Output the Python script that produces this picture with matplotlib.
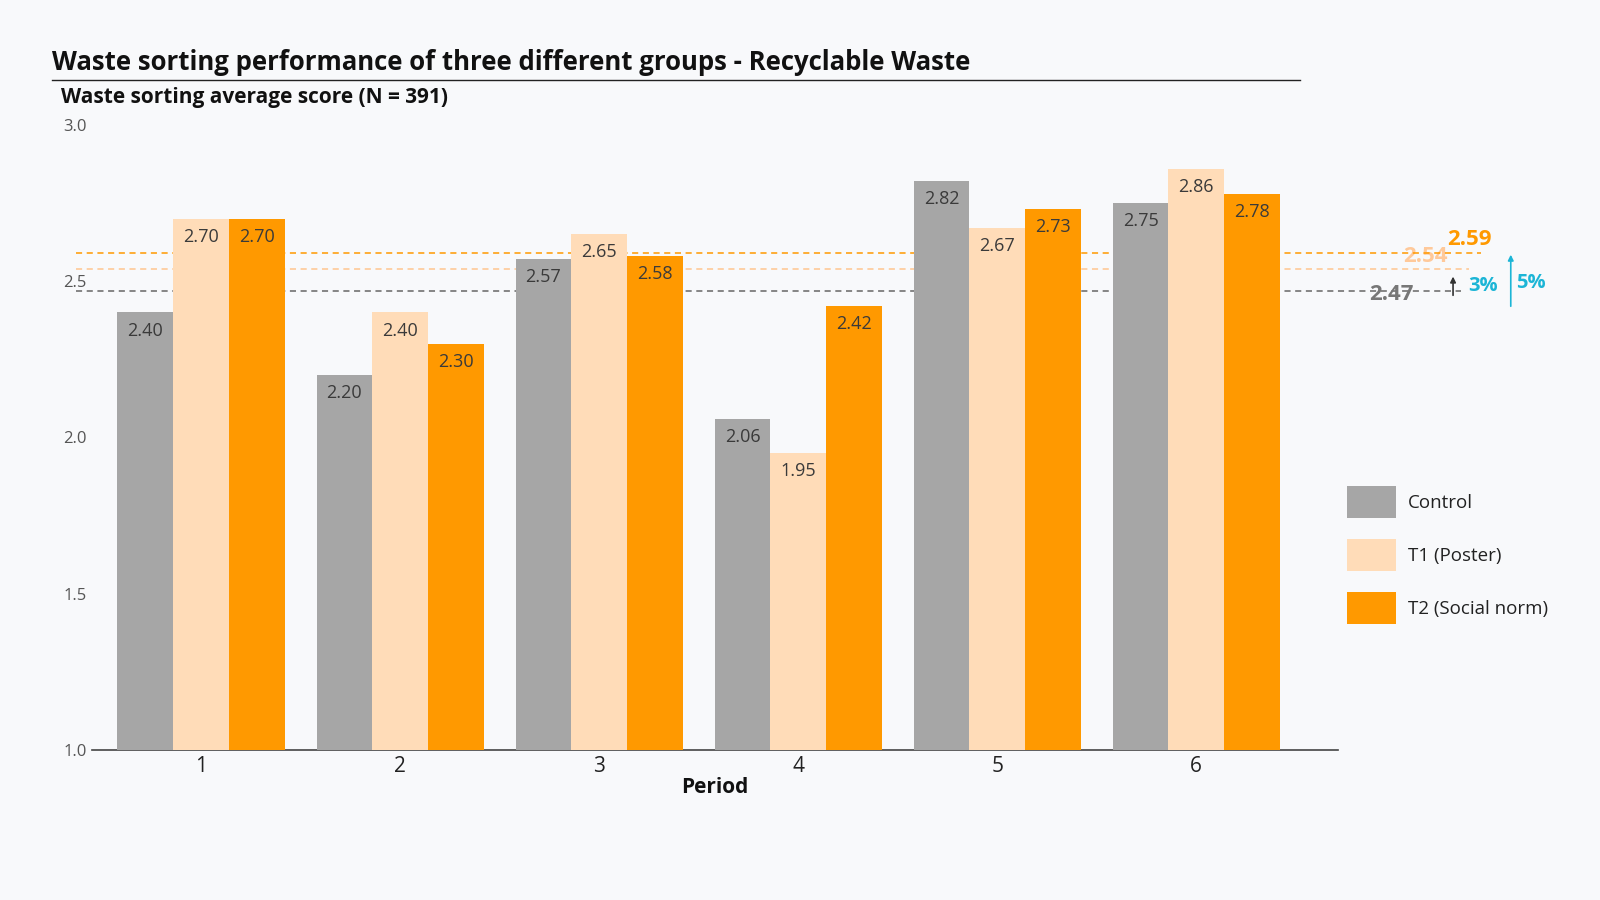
import numpy as np
import matplotlib
matplotlib.use("Agg")
import matplotlib.pyplot as plt
from matplotlib.lines import Line2D

plt.rcParams['font.family'] = ['Open Sans', 'DejaVu Sans']

periods = ["1", "2", "3", "4", "5", "6"]
groups = ["Control", "T1 (Poster)", "T2 (Social norm)"]
control = [2.40, 2.20, 2.57, 2.06, 2.82, 2.75]
poster = [2.70, 2.40, 2.65, 1.95, 2.67, 2.86]
social = [2.70, 2.30, 2.58, 2.42, 2.73, 2.78]
means = [2.47, 2.54, 2.59]
gains = ["3%", "5%"]

bg = "#f8f9fb"
colors = ["#a6a6a6", "#ffdcb8", "#ff9900"]
mean_colors = ["#666666", "#ffc58f", "#ff9900"]
text_colors = ["#777777", "#ffc99a", "#ff9900"]
cyan = "#1cb5d6"

fig = plt.figure(figsize=(16, 9), dpi=100, facecolor=bg)
ax = fig.add_axes([0.0575, 0.1667, 0.7785, 0.6944], facecolor=bg)

x = np.arange(len(periods))
w = 0.28
for i, (vals, c) in enumerate(zip([control, poster, social], colors)):
    bars = ax.bar(x + (i - 1) * w, vals, w, bottom=0, color=c, label=groups[i], zorder=3)
    for b, v in zip(bars, vals):
        ax.annotate(f"{v:.2f}", xy=(b.get_x() + w / 2, v), xytext=(0, -13),
                    textcoords="offset points", ha="center", va="center",
                    fontsize=13, color="#3a3a3a", zorder=4)

# mean lines
ends = [6.33, 6.37, 6.43]
for m, c, e in zip(means, mean_colors, ends):
    ax.plot([-0.63, e], [m, m], ls=(0, (4, 3)), lw=1.1, color=c, zorder=2, clip_on=False)

ax.text(6.37, means[2] + 0.045, f"{means[2]:.2f}", color=text_colors[2], fontsize=16,
        fontweight="bold", ha="center", va="center", clip_on=False)
ax.text(6.15, means[1] + 0.038, f"{means[1]:.2f}", color=text_colors[1], fontsize=16,
        fontweight="bold", ha="center", va="center", clip_on=False, zorder=1)
ax.text(5.98, means[0] - 0.012, f"{means[0]:.2f}", color=text_colors[0], fontsize=16,
        fontweight="bold", ha="center", va="center", clip_on=False)

# gain arrows
ax.annotate("", xy=(6.29, means[1] - 0.025), xytext=(6.29, means[0] - 0.015),
            arrowprops=dict(arrowstyle="-|>", color="#333333", lw=1.2, mutation_scale=8,
                            shrinkA=0, shrinkB=0),
            annotation_clip=False)
ax.text(6.44, means[0] + 0.015, gains[0], color=cyan, fontsize=14.5, fontweight="bold",
        ha="center", va="center", clip_on=False)
ax.annotate("", xy=(6.58, means[2] - 0.005), xytext=(6.58, means[0] - 0.05),
            arrowprops=dict(arrowstyle="-|>", color=cyan, lw=1.2, mutation_scale=8,
                            shrinkA=0, shrinkB=0),
            annotation_clip=False)
ax.text(6.68, means[0] + 0.025, gains[1], color=cyan, fontsize=14.5, fontweight="bold",
        ha="center", va="center", clip_on=False)

ax.set_xlim(-0.548, 5.71)
ax.set_ylim(1.0, 3.0)
ax.set_yticks([1.0, 1.5, 2.0, 2.5, 3.0])
ax.set_yticklabels(["1.0", "1.5", "2.0", "2.5", "3.0"])
ax.set_xticks(x)
ax.set_xticklabels(periods)
ax.tick_params(axis="y", length=0, labelsize=12, labelcolor="#555555", pad=4)
ax.tick_params(axis="x", length=0, labelsize=15, labelcolor="#222222", pad=4)
for s in ["top", "right", "left"]:
    ax.spines[s].set_visible(False)
ax.spines["bottom"].set_color("#444444")
ax.spines["bottom"].set_linewidth(1.2)
ax.set_xlabel("Period", fontsize=15, fontweight="bold", labelpad=0, color="#111111")

ax.legend(loc="upper left", bbox_to_anchor=(0.842, 0.46), bbox_transform=fig.transFigure,
          frameon=False, fontsize=13.5, handlelength=2.6, handleheight=2.22,
          labelspacing=1.14, handletextpad=0.62, borderpad=0, borderaxespad=0,
          labelcolor="#222222")

fig.text(0.0325, 0.931, "Waste sorting performance of three different groups - Recyclable Waste",
         fontsize=18.5, fontweight="bold", ha="left", va="center", color="#111111")
fig.add_artist(Line2D([0.0325, 0.8125], [0.911, 0.911], color="#222222", lw=1.0,
                      transform=fig.transFigure))
fig.text(0.038, 0.892, "Waste sorting average score (N = 391)", fontsize=15,
         fontweight="bold", ha="left", va="center", color="#111111")

fig.savefig("out.png", dpi=100, facecolor=bg)
